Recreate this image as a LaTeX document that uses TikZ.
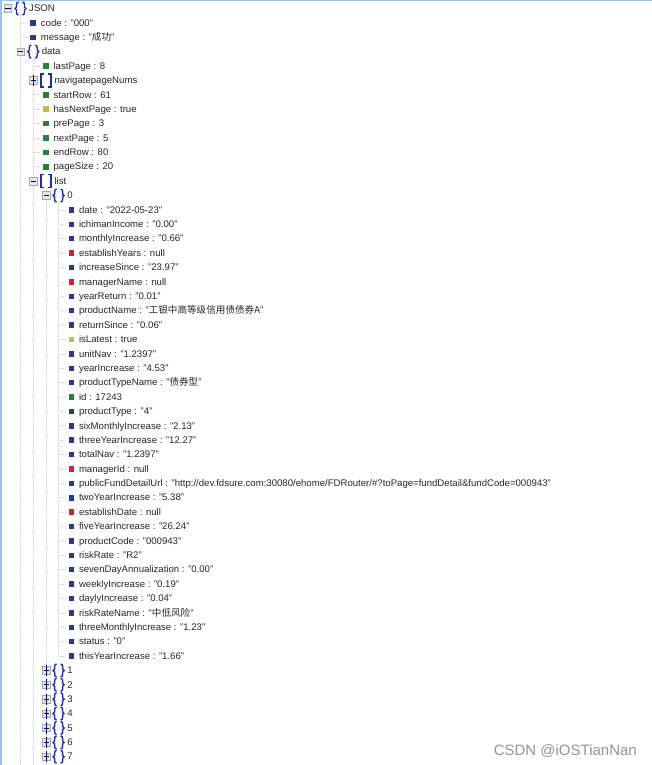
\documentclass[tikz,border=0pt]{standalone}
\usepackage{fontspec}
\setmainfont{Liberation Sans}
\newfontfamily\cjk{Noto Sans CJK SC}
\definecolor{strcol}{HTML}{2A3A86}
\definecolor{numcol}{HTML}{2A7F3C}
\definecolor{boolcol}{HTML}{C6BA3C}
\definecolor{nullcol}{HTML}{CC2233}
\definecolor{iconcol}{HTML}{1C2FA6}
\definecolor{framecol}{HTML}{9CC0EC}
\tikzset{
  treeline/.style={gray!38, densely dotted, line width=.7pt},
  rowtext/.style={anchor=base west, inner sep=0, text=black!85, font=\fontsize{9.6}{11}\selectfont},
  bullet/.style={minimum size=5.5pt, inner sep=0},
  expander/.style={draw=gray!70, fill=gray!18, minimum size=7.5pt, inner sep=0, line width=.7pt},
  sign/.style={black!55!blue, line width=.7pt},
  pics/objicon/.style={code={
    \draw[iconcol, line width=1.4pt] (-2,-6.5) to[out=180,in=90] (-4,-4) -- (-4,-1.5) -- (-5.5,0) -- (-4,1.5) -- (-4,4) to[out=-90,in=180] (-2,6.5);
    \draw[iconcol, line width=1.4pt] (2,-6.5) to[out=0,in=90] (4,-4) -- (4,-1.5) -- (5.5,0) -- (4,1.5) -- (4,4) to[out=-90,in=0] (2,6.5);
  }},
  pics/arricon/.style={code={
    \draw[iconcol, line width=1.4pt] (-2,-6.5) -- (-5,-6.5) -- (-5,6.5) -- (-2,6.5);
    \draw[iconcol, line width=1.4pt] (2,-6.5) -- (5,-6.5) -- (5,6.5) -- (2,6.5);
  }},
}
\begin{document}
\begin{tikzpicture}[x=1pt,y=-1pt]
\useasboundingbox (0,0) rectangle (652,765);

\fill[framecol] (0,0) rectangle (652,1); %frame
\fill[framecol] (0,0) rectangle (1.8,765);

\foreach \lvl in {0,...,4} \coordinate (v\lvl) at ({8+12.7*\lvl},0);

\draw[treeline] (v1 |- 0,15) -- (v1 |- 0,765);
\draw[treeline] (v2 |- 0,58) -- (v2 |- 0,765);
\draw[treeline] (v3 |- 0,188) -- (v3 |- 0,765);
\draw[treeline] (v4 |- 0,203) -- (v4 |- 0,655);

% leaves outside the list
\foreach \i/\lvl/\col/\txt in {
  1/1/strcol/{code : "000"},
  2/1/strcol/{message : "{\cjk 成功}"},
  4/2/numcol/{lastPage : 8},
  6/2/numcol/{startRow : 61},
  7/2/boolcol/{hasNextPage : true},
  8/2/numcol/{prePage : 3},
  9/2/numcol/{nextPage : 5},
  10/2/numcol/{endRow : 80},
  11/2/numcol/{pageSize : 20}}{
  \pgfmathsetmacro\y{8.5+14.39*\i}
  \node[bullet, fill=\col] (bul\i) at ({8+12.7*\lvl+12.5},\y) {};
  \node[rowtext] (row\i) at ({8+12.7*\lvl+20},\y+3.2) {\txt};
  \draw[treeline, shorten <=3pt] (bul\i.west) -- (bul\i.west -| v\lvl);
}

% leaves of item 0
\foreach \col/\txt [count=\n from 14] in {
  strcol/{date : "2022-05-23"},
  strcol/{ichimanIncome : "0.00"},
  strcol/{monthlyIncrease : "0.66"},
  nullcol/{establishYears : null},
  strcol/{increaseSince : "23.97"},
  nullcol/{managerName : null},
  strcol/{yearReturn : "0.01"},
  strcol/{productName : "{\cjk 工银中高等级信用债债券A}"},
  strcol/{returnSince : "0.06"},
  boolcol/{isLatest : true},
  strcol/{unitNav : "1.2397"},
  strcol/{yearIncrease : "4.53"},
  strcol/{productTypeName : "{\cjk 债券型}"},
  numcol/{id : 17243},
  strcol/{productType : "4"},
  strcol/{sixMonthlyIncrease : "2.13"},
  strcol/{threeYearIncrease : "12.27"},
  strcol/{totalNav : "1.2397"},
  nullcol/{managerId : null},
  strcol/{publicFundDetailUrl : "http://dev.fdsure.com:30080/ehome/FDRouter/\#?toPage=fundDetail\&fundCode=000943"},
  strcol/{twoYearIncrease : "5.38"},
  nullcol/{establishDate : null},
  strcol/{fiveYearIncrease : "26.24"},
  strcol/{productCode : "000943"},
  strcol/{riskRate : "R2"},
  strcol/{sevenDayAnnualization : "0.00"},
  strcol/{weeklyIncrease : "0.19"},
  strcol/{daylyIncrease : "0.04"},
  strcol/{riskRateName : "{\cjk 中低风险}"},
  strcol/{threeMonthlyIncrease : "1.23"},
  strcol/{status : "0"},
  strcol/{thisYearIncrease : "1.66"}}{
  \pgfmathsetmacro\y{8.5+14.39*\n}
  \node[bullet, fill=\col] (bul\n) at ({8+12.7*4+12.5},\y) {};
  \node[rowtext] (row\n) at ({8+12.7*4+20},\y+3.2) {\txt};
  \draw[treeline, shorten <=3pt] (bul\n.west) -- (bul\n.west -| v4);
}

% objects
\foreach \i/\lvl/\open/\txt in {0/0/1/JSON, 3/1/1/data, 13/3/1/0, 46/3/0/1, 47/3/0/2, 48/3/0/3, 49/3/0/4, 50/3/0/5, 51/3/0/6, 52/3/0/7}{
  \pgfmathsetmacro\y{8.5+14.39*\i}
  \node[expander] (exp\i) at ({8+12.7*\lvl},\y) {};
  \draw[sign] ([xshift=1.5pt]exp\i.west) -- ([xshift=-1.5pt]exp\i.east);
  \ifnum\open=0 \draw[sign] ([yshift=1.5pt]exp\i.north) -- ([yshift=-1.5pt]exp\i.south); \fi
  \pic at ({8+12.7*\lvl+12.5},\y) {objicon};
  \node[rowtext] (row\i) at ({8+12.7*\lvl+21},\y+3.2) {\txt};
}

% arrays
\foreach \i/\lvl/\open/\txt in {5/2/0/navigatepageNums, 12/2/1/list}{
  \pgfmathsetmacro\y{8.5+14.39*\i}
  \node[expander] (exp\i) at ({8+12.7*\lvl},\y) {};
  \draw[sign] ([xshift=1.5pt]exp\i.west) -- ([xshift=-1.5pt]exp\i.east);
  \ifnum\open=0 \draw[sign] ([yshift=1.5pt]exp\i.north) -- ([yshift=-1.5pt]exp\i.south); \fi
  \pic at ({8+12.7*\lvl+12.5},\y) {arricon};
  \node[rowtext] (row\i) at ({8+12.7*\lvl+21},\y+3.2) {\txt};
}

\node[anchor=base east, inner sep=0, text=black!42, font=\fontsize{15}{17}\selectfont] (mark) at (637,755) {CSDN @iOSTianNan};

\end{tikzpicture}
\end{document}
